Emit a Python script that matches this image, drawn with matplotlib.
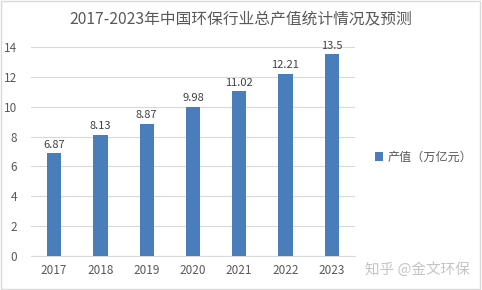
import matplotlib
matplotlib.use("Agg")
import matplotlib.pyplot as plt
from matplotlib.patches import Rectangle

plt.rcParams["font.family"] = ["Noto Sans CJK SC", "DejaVu Sans"]

years = ["2017", "2018", "2019", "2020", "2021", "2022", "2023"]
values = [6.87, 8.13, 8.87, 9.98, 11.02, 12.21, 13.5]
value_labels = ["6.87", "8.13", "8.87", "9.98", "11.02", "12.21", "13.5"]
series_name = "产值（万亿元）"
title = "2017-2023年中国环保行业总产值统计情况及预测"

bar_color = "#4A7EBB"
text_color = "#595959"

fig = plt.figure(figsize=(4.82, 2.90), dpi=100)
fig.patches.append(Rectangle((0.002, 0.004), 0.994, 0.992, transform=fig.transFigure,
                             fill=False, edgecolor="#D9D9D9", linewidth=1))

ax = fig.add_axes([0.0643, 0.117, 0.672, 0.721])
x = range(len(years))
bars = ax.bar(x, values, width=0.31, color=bar_color, label=series_name, zorder=3)
for xi, v, lab in zip(x, values, value_labels):
    ax.text(xi, v + 0.25, lab, ha="center", va="bottom", fontsize=8, color="#404040")

ax.set_xlim(-0.5, len(years) - 0.5)
ax.set_ylim(0, 14)
ax.set_yticks(range(0, 15, 2))
ax.set_xticks(list(x))
ax.set_xticklabels(years)
ax.grid(axis="y", color="#D9D9D9", linewidth=0.8, zorder=0)
for s in ["top", "right", "left"]:
    ax.spines[s].set_visible(False)
ax.spines["bottom"].set_color("#D9D9D9")
ax.tick_params(length=0, labelsize=8.5, colors=text_color)
ax.tick_params(axis="x", pad=6)
ax.tick_params(axis="y", pad=10)

fig.text(0.5, 0.935, title, ha="center", va="center", fontsize=11.3, color=text_color)

fig.legend(handles=[bars], labels=[series_name], loc="center left",
           bbox_to_anchor=(0.755, 0.458), frameon=False, fontsize=8.7,
           handlelength=0.7, handleheight=0.7, handletextpad=0.4,
           labelcolor=text_color)

fig.text(0.758, 0.07, "知乎 @金文环保", fontsize=10.5, color="#C4C4C4", va="center")

fig.savefig("out.png", dpi=100)
